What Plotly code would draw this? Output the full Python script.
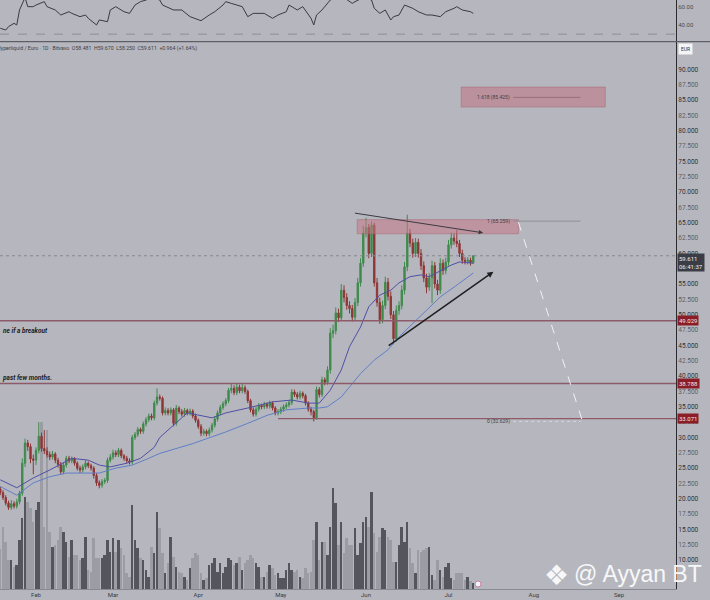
import pandas as pd
import plotly.graph_objects as go

# ---------------- data ----------------
start = pd.Timestamp("2025-01-19")

opens = [21.6, 21.0, 20.2, 19.3, 18.6, 19.2, 18.8, 19.5, 20.9, 25.8, 29.1, 28.5, 26.5, 26.3, 27.9, 30.2, 28.2, 27.8, 27.2, 26.8,
         27.3, 26.3, 25.6, 24.4, 25.5, 26.6, 26.2, 26.5, 25.8, 25.0, 24.7, 25.2, 25.8, 25.4, 25.0, 23.8, 22.6, 22.2, 22.8, 23.0,
         26.3, 26.8, 27.5, 27.2, 27.9, 27.0, 26.6, 26.2, 26.0, 30.0, 30.5, 31.3, 31.0, 32.2, 32.9, 33.5, 33.2, 35.6, 36.6, 36.4,
         34.0, 34.4, 34.0, 34.5, 32.3, 34.8, 34.2, 33.8, 34.4, 34.0, 34.3, 33.5, 32.8, 31.8, 30.7, 31.0, 30.6, 31.2, 32.0, 33.0,
         34.0, 34.9, 35.5, 36.0, 37.7, 38.0, 37.3, 38.2, 37.6, 38.1, 37.5, 36.0, 34.5, 33.8, 34.6, 35.2, 35.0, 35.4, 35.1, 35.6,
         34.8, 34.0, 34.2, 34.6, 35.0, 35.3, 35.7, 37.4, 37.0, 36.6, 37.2, 36.8, 35.6, 34.6, 34.2, 33.2, 37.8, 37.0, 39.4, 39.0,
         41.0, 47.0, 47.4, 50.3, 49.5, 54.0, 52.8, 51.5, 51.0, 49.6, 52.0, 55.2, 58.4, 63.3, 64.2, 60.0, 64.6, 55.2, 52.0, 49.2,
         51.5, 55.3, 53.0, 50.0, 46.1, 50.7, 51.5, 54.0, 57.8, 63.3, 61.7, 60.0, 61.8, 60.0, 58.0, 56.0, 54.5, 56.0, 58.0, 55.0,
         54.0, 58.4, 57.2, 58.6, 61.4, 62.5, 62.0, 61.6, 60.0, 58.9, 58.7, 58.9, 58.481]
highs = [22.0, 21.4, 20.6, 19.7, 19.8, 19.6, 20.0, 21.3, 26.6, 29.8, 29.6, 29.0, 27.2, 28.4, 32.5, 30.8, 31.2, 28.4, 27.7, 27.8,
         27.6, 26.7, 26.0, 25.9, 27.0, 27.0, 26.9, 26.8, 26.1, 25.4, 25.6, 26.3, 26.1, 25.7, 25.3, 24.2, 23.0, 23.2, 23.4, 26.7,
         27.3, 28.0, 27.9, 28.3, 28.2, 27.3, 27.0, 26.6, 30.4, 30.9, 31.7, 31.6, 32.6, 33.3, 33.9, 33.9, 36.0, 38.0, 37.0, 36.7,
         34.9, 34.8, 34.9, 34.8, 35.3, 35.1, 34.6, 34.8, 34.7, 34.7, 34.6, 33.9, 33.1, 32.2, 31.4, 31.3, 31.6, 32.4, 33.4, 34.4,
         35.3, 35.9, 36.4, 38.1, 38.8, 38.5, 38.8, 38.6, 38.7, 38.5, 37.8, 36.3, 34.9, 35.0, 35.6, 35.5, 35.8, 35.7, 36.0, 35.9,
         35.1, 34.6, 35.0, 35.4, 35.7, 36.1, 37.9, 37.8, 37.4, 37.6, 37.5, 37.1, 35.9, 35.0, 34.5, 38.3, 38.2, 39.9, 39.8, 41.6,
         47.8, 48.4, 51.2, 51.0, 55.0, 54.8, 53.5, 52.2, 51.6, 52.7, 56.0, 59.2, 64.5, 65.8, 64.8, 65.2, 65.0, 56.0, 52.8, 52.3,
         56.2, 56.0, 53.8, 50.6, 51.5, 52.2, 54.8, 58.6, 66.3, 64.0, 62.4, 62.5, 62.4, 60.7, 58.7, 56.7, 56.8, 58.8, 58.6, 55.7,
         59.2, 59.0, 59.3, 62.2, 63.4, 63.2, 63.8, 62.2, 60.6, 59.4, 59.4, 59.3, 59.67]
lows = [20.6, 19.8, 18.9, 18.2, 18.2, 18.4, 18.4, 19.1, 20.5, 25.2, 27.8, 25.8, 24.0, 25.5, 27.4, 27.7, 27.3, 26.7, 26.3, 26.4,
        25.8, 25.1, 23.9, 24.0, 25.1, 25.8, 25.8, 25.4, 24.6, 24.2, 24.3, 24.8, 25.0, 24.6, 23.3, 22.1, 21.7, 21.8, 22.4, 22.6,
        25.9, 26.4, 26.8, 26.8, 26.6, 26.2, 25.8, 25.6, 25.6, 29.6, 30.1, 30.6, 30.6, 31.8, 32.5, 32.8, 32.8, 35.2, 36.0, 33.6,
        33.6, 33.6, 33.6, 31.8, 31.9, 33.8, 33.4, 33.4, 33.6, 33.6, 33.1, 32.4, 31.4, 30.2, 30.3, 30.2, 30.2, 30.8, 31.6, 32.6,
        33.6, 34.5, 35.1, 35.6, 37.2, 36.9, 36.9, 37.2, 37.2, 37.1, 35.6, 34.1, 33.4, 33.4, 34.2, 34.6, 34.6, 34.7, 34.7, 34.4,
        33.6, 33.6, 33.8, 34.2, 34.6, 34.9, 35.3, 36.6, 36.2, 36.2, 36.4, 35.2, 34.2, 33.6, 32.6, 32.9, 36.5, 36.6, 38.5, 38.6,
        40.4, 46.2, 46.8, 48.8, 49.0, 52.0, 50.8, 50.2, 48.9, 49.0, 51.4, 54.6, 57.8, 62.6, 59.2, 59.4, 54.6, 51.3, 48.5, 48.6,
        50.9, 52.3, 49.3, 45.2, 45.6, 50.0, 50.9, 53.3, 57.1, 61.0, 59.3, 59.4, 59.3, 57.3, 55.3, 53.5, 53.9, 51.9, 54.3, 53.2,
        53.4, 56.5, 56.6, 58.0, 60.8, 61.4, 61.0, 59.4, 58.3, 58.2, 58.2, 58.0, 58.25]
closes = [21.0, 20.2, 19.3, 18.6, 19.2, 18.8, 19.5, 20.9, 25.8, 29.1, 28.5, 26.5, 26.3, 27.9, 30.2, 28.2, 27.8, 27.2, 26.8, 27.3,
          26.3, 25.6, 24.4, 25.5, 26.6, 26.2, 26.5, 25.8, 25.0, 24.7, 25.2, 25.8, 25.4, 25.0, 23.8, 22.6, 22.2, 22.8, 23.0, 26.3,
          26.8, 27.5, 27.2, 27.9, 27.0, 26.6, 26.2, 26.0, 30.0, 30.5, 31.3, 31.0, 32.2, 32.9, 33.5, 33.2, 35.6, 36.6, 36.4, 34.0,
          34.4, 34.0, 34.5, 32.3, 34.8, 34.2, 33.8, 34.4, 34.0, 34.3, 33.5, 32.8, 31.8, 30.7, 31.0, 30.6, 31.2, 32.0, 33.0, 34.0,
          34.9, 35.5, 36.0, 37.7, 38.0, 37.3, 38.2, 37.6, 38.1, 37.5, 36.0, 34.5, 33.8, 34.6, 35.2, 35.0, 35.4, 35.1, 35.6, 34.8,
          34.0, 34.2, 34.6, 35.0, 35.3, 35.7, 37.4, 37.0, 36.6, 37.2, 36.8, 35.6, 34.6, 34.2, 33.2, 37.8, 37.0, 39.4, 39.0, 41.0,
          47.0, 47.4, 50.3, 49.5, 54.0, 52.8, 51.5, 51.0, 49.6, 52.0, 55.2, 58.4, 63.3, 64.2, 60.0, 64.6, 55.2, 52.0, 49.2, 51.5,
          55.3, 53.0, 50.0, 46.1, 50.7, 51.5, 54.0, 57.8, 63.3, 61.7, 60.0, 61.8, 60.0, 58.0, 56.0, 54.5, 56.0, 58.0, 55.0, 54.0,
          58.4, 57.2, 58.6, 61.4, 62.5, 62.0, 61.6, 60.0, 58.9, 58.7, 58.9, 58.481, 59.611]
volumes_k = [400, 620, 470, 290, 290, 220, 240, 490, 710, 920, 870, 810, 670, 790, 870, 1670, 620, 1590, 570, 420,
             440, 490, 620, 570, 470, 320, 490, 340, 340, 290, 310, 520, 190, 170, 510, 310, 310, 310, 340, 490,
             370, 510, 370, 490, 410, 340, 160, 120, 840, 490, 410, 310, 290, 190, 120, 420, 360, 770, 610, 360,
             160, 260, 520, 320, 220, 170, 160, 120, 90, 210, 310, 360, 340, 160, 90, 110, 240, 260, 310, 170,
             260, 160, 220, 310, 290, 240, 260, 320, 190, 260, 290, 340, 310, 260, 220, 120, 120, 170, 240, 210,
             140, 160, 110, 110, 190, 260, 190, 170, 190, 120, 110, 210, 160, 170, 490, 670, 290, 470, 470, 340,
             620, 1010, 860, 440, 670, 360, 510, 440, 440, 610, 340, 460, 670, 720, 620, 970, 560, 370, 520, 610,
             590, 520, 490, 270, 270, 440, 620, 470, 670, 410, 260, 160, 390, 370, 390, 410, 420, 140, 90, 290,
             190, 120, 220, 260, 110, 90, 160, 160, 160, 90, 120, 80, 60]

ma_fast_days = [0, 6, 12, 18, 26, 32, 36, 40, 46, 51, 56, 58, 61, 68, 77, 82, 90, 99, 106, 112, 116, 120, 124, 127, 131,
                134, 138, 142, 145, 149, 153, 156, 164, 167, 172]
ma_fast_vals = [23.1, 21.8, 23.4, 24.7, 26.6, 26.3, 25.5, 25.2, 25.8, 26.6, 28.4, 30.0, 31.2, 34.0, 33.2, 34.0, 34.8, 35.8,
                36.1, 35.6, 35.6, 37.7, 41.0, 44.8, 48.0, 51.3, 53.2, 54.0, 55.2, 56.2, 56.5, 56.2, 58.1, 58.6, 58.4]
ma_slow_days = [0, 6, 12, 18, 24, 30, 36, 42, 48, 54, 58, 70, 82, 90, 97, 104, 112, 116, 119, 124, 131, 136, 141, 145,
                150, 155, 160, 165, 170, 172]
ma_slow_vals = [22.0, 20.6, 22.6, 23.6, 24.2, 24.2, 24.2, 25.0, 25.5, 26.6, 27.4, 29.0, 30.9, 32.3, 33.6, 34.5, 34.8, 34.8,
                35.0, 36.6, 40.4, 42.6, 44.3, 46.4, 48.6, 50.7, 52.9, 54.5, 56.2, 56.8]

osc_days = [0, 2, 3, 5, 6, 7, 9, 10, 12, 13, 16, 17, 20, 22, 25, 26, 29, 31, 32, 35, 36, 39, 40, 42, 45, 47, 49, 51, 53,
            55, 58, 59, 63, 66, 69, 73, 76, 78, 81, 82, 84, 86, 88, 90, 92, 96, 99, 101, 104, 105, 108, 110, 113, 114,
            115, 117, 119, 120, 123, 126, 128, 129, 132, 135, 136, 138, 140, 142, 143, 145, 147, 150, 152, 155, 157,
            160, 162, 165, 166, 168, 171, 172]
osc_vals = [36.4, 34.5, 38.2, 41.8, 40.0, 56.4, 70.0, 60.0, 60.0, 61.8, 65.5, 60.0, 56.4, 50.9, 54.5, 52.7, 49.1, 50.9,
            47.3, 40.0, 45.5, 43.6, 56.4, 60.0, 54.5, 52.7, 61.8, 65.5, 67.3, 70.0, 67.3, 61.8, 56.4, 56.4, 49.1, 44.7,
            50.9, 54.5, 61.8, 65.5, 63.6, 61.8, 60.0, 49.1, 52.7, 52.7, 47.3, 50.9, 54.5, 61.8, 56.4, 60.0, 47.3, 40.0,
            50.9, 56.4, 63.6, 67.3, 74.0, 67.3, 63.6, 65.5, 70.0, 67.3, 58.2, 52.7, 56.4, 45.5, 49.1, 50.9, 61.8, 58.2,
            54.5, 50.9, 50.9, 49.1, 54.5, 58.2, 60.0, 56.4, 54.5, 52.7]

price_ticks = [10.0, 12.5, 15.0, 17.5, 20.0, 22.5, 25.0, 27.5, 30.0, 32.5, 35.0, 37.5, 40.0, 42.5, 45.0, 47.5, 50.0,
               52.5, 55.0, 57.5, 60.0, 62.5, 65.0, 67.5, 70.0, 72.5, 75.0, 77.5, 80.0, 82.5, 85.0, 87.5, 90.0]
month_ticks = ["2025-02-01", "2025-03-01", "2025-04-01", "2025-05-01", "2025-06-01", "2025-07-01", "2025-08-01", "2025-09-01"]
month_labels = ["Feb", "Mar", "Apr", "May", "Jun", "Jul", "Aug", "Sep"]
osc_ticks = [40, 60]
osc_labels = ["40.00", "60.00"]

levels = [49.029, 38.788, 33.071]
last_price = 59.611
countdown = "06:41:37"
fib_1618 = 85.425
fib_1 = 65.259
fib_0 = 32.629
header = "Hyperliquid / Euro · 1D · Bitvavo  O58.481  H59.670  L58.250  C59.611  +0.964 (+1.64%)"

# ---------------- styling ----------------
BG = "#b6b7be"
UP = "#3f8a4c"
DOWN = "#8e3636"
VOL_UP = "#55565d"
VOL_DOWN = "#9c9da4"
W, H = 710, 600
ML, MR, MT, MB = 0, 34, 0, 11
PW, PH = W - ML - MR, H - MT - MB
MAIN_TOP = 42      # px (top of price pane)
OSC_BOT = 41       # px (bottom of oscillator pane)


def d2t(d):
    return start + pd.Timedelta(days=d)


def pxx(x):
    return x / PW


def pxy(y):
    return (PH - y) / PH


dates = pd.date_range(start, periods=len(closes), freq="D")
vol_colors = [VOL_UP if c >= o else VOL_DOWN for o, c in zip(opens, closes)]

fig = go.Figure()

fig.add_trace(go.Bar(x=dates, y=volumes_k, marker=dict(color=vol_colors, line=dict(width=0)),
                     width=0.72 * 86400000, xaxis="x", yaxis="y", hoverinfo="skip"))

fig.add_trace(go.Candlestick(x=dates, open=opens, high=highs, low=lows, close=closes,
                             increasing=dict(line=dict(color=UP, width=1), fillcolor=UP),
                             decreasing=dict(line=dict(color=DOWN, width=1), fillcolor=DOWN),
                             whiskerwidth=0, xaxis="x", yaxis="y2", hoverinfo="skip"))

fig.add_trace(go.Scatter(x=[d2t(d) for d in ma_slow_days], y=ma_slow_vals, mode="lines",
                         line=dict(color="#5f7fc8", width=1), xaxis="x", yaxis="y2", hoverinfo="skip"))
fig.add_trace(go.Scatter(x=[d2t(d) for d in ma_fast_days], y=ma_fast_vals, mode="lines",
                         line=dict(color="#4f4fa6", width=1), xaxis="x", yaxis="y2", hoverinfo="skip"))

fig.add_trace(go.Scatter(x=[d2t(d) for d in osc_days], y=osc_vals, mode="lines",
                         line=dict(color="#3a3a3f", width=1), xaxis="x2", yaxis="y3", hoverinfo="skip"))

x_range = [d2t(-0.1), d2t(-0.1 + PW / 2.75)]
p_bot = 90 - (PH - 69.3) / 6.136
p_top = 90 + (69.3 - MAIN_TOP) / 6.136
main_dom = [0, (PH - MAIN_TOP) / PH]
osc_dom = [(PH - OSC_BOT) / PH, 1]

tick_text = []
for v in price_ticks:
    col = "#2f3035" if v % 5 == 0 else "#5d5e66"
    tick_text.append(f"<span style='color:{col}'>{v:.3f}</span>")

fig.update_layout(
    width=W, height=H, margin=dict(l=ML, r=MR, t=MT, b=MB, autoexpand=False),
    paper_bgcolor=BG, plot_bgcolor=BG, showlegend=False, bargap=0,
    font=dict(family="Roboto, Liberation Sans, sans-serif", color="#333"),
    xaxis=dict(domain=[0, 1], anchor="y", type="date", range=x_range, rangeslider=dict(visible=False),
               tickvals=month_ticks, ticktext=month_labels, tickfont=dict(size=6, color="#3a3a40"),
               showgrid=False, zeroline=False, showline=True, linecolor="#8a8b92", linewidth=1, ticks=""),
    yaxis=dict(domain=main_dom, range=[0, (PH - MAIN_TOP) * 10], visible=False, fixedrange=True),
    yaxis2=dict(overlaying="y", side="right", anchor="x", range=[p_bot, p_top], tickvals=price_ticks,
                ticktext=tick_text, tickfont=dict(size=6.5), showgrid=False, zeroline=False,
                showline=True, linecolor="#2b2b30", linewidth=1, ticks="", automargin=False),
    xaxis2=dict(domain=[0, 1], anchor="y3", matches="x", visible=False, range=x_range),
    yaxis3=dict(domain=osc_dom, anchor="x2", side="right", range=[22.5, 67.3], tickvals=osc_ticks,
                ticktext=osc_labels, tickfont=dict(size=6, color="#4a4b52"), showgrid=False, zeroline=False,
                showline=True, linecolor="#2b2b30", linewidth=1, ticks="", automargin=False),
)

shapes = []
# pane separator
shapes.append(dict(type="line", xref="paper", yref="paper", x0=0, x1=W / PW, y0=pxy(41.7), y1=pxy(41.7),
                   line=dict(color="#4a4b52", width=1)))
# oscillator dashed level
shapes.append(dict(type="line", xref="paper", yref="y3", x0=0, x1=1, y0=30, y1=30,
                   line=dict(color="#8d8e95", width=1, dash="dash")))
# last price dotted
shapes.append(dict(type="line", xref="paper", yref="y2", x0=0, x1=1, y0=last_price, y1=last_price,
                   line=dict(color="#86878e", width=1, dash="dot")))
# horizontal key levels
shapes.append(dict(type="line", xref="paper", yref="y2", x0=0, x1=1, y0=levels[0], y1=levels[0],
                   line=dict(color="#8c5a68", width=1.6)))
shapes.append(dict(type="line", xref="paper", yref="y2", x0=0, x1=1, y0=levels[1], y1=levels[1],
                   line=dict(color="#8c5a68", width=1.6)))
shapes.append(dict(type="line", xref="x", yref="y2", x0=d2t(101), x1=x_range[1], y0=levels[2], y1=levels[2],
                   line=dict(color="#8c5a68", width=1.4)))
# resistance zone
shapes.append(dict(type="rect", xref="x", yref="y2", x0=d2t(129.8), x1=d2t(188.4), y0=63.2, y1=65.5,
                   fillcolor="rgba(196,120,135,0.55)", line=dict(color="rgba(170,100,115,0.5)", width=1)))
# 1.618 target zone
shapes.append(dict(type="rect", xref="x", yref="y2", x0=d2t(167.6), x1=d2t(220.0), y0=83.85, y1=87.1,
                   fillcolor="rgba(190,115,130,0.55)", line=dict(color="rgba(170,100,115,0.5)", width=1)))
# fib lines
shapes.append(dict(type="line", xref="x", yref="y2", x0=d2t(186.5), x1=d2t(211), y0=fib_1618, y1=fib_1618,
                   line=dict(color="#9a6d79", width=1)))
shapes.append(dict(type="line", xref="x", yref="y2", x0=d2t(186.5), x1=d2t(211), y0=fib_1, y1=fib_1,
                   line=dict(color="#8f9097", width=1)))
shapes.append(dict(type="line", xref="x", yref="y2", x0=d2t(186.5), x1=d2t(211), y0=fib_0, y1=fib_0,
                   line=dict(color="#d6d6dc", width=1, dash="dot")))
# projection (white dashed)
shapes.append(dict(type="line", xref="x", yref="y2", x0=d2t(188.4), x1=d2t(211.6), y0=65.1, y1=32.8,
                   line=dict(color="#f2f2f5", width=1, dash="dash")))
# little circle icon
shapes.append(dict(type="circle", xref="paper", yref="paper", x0=pxx(475), x1=pxx(481), y0=pxy(587), y1=pxy(581),
                   fillcolor="#f4f4f6", line=dict(color="#c77fa0", width=1)))
fig.update_layout(shapes=shapes)

ann = []
# trend lines with arrows
ann.append(dict(xref="x", yref="y2", axref="x", ayref="y2", x=d2t(175.6), y=63.35, ax=d2t(128.4), ay=66.6,
                text="", showarrow=True, arrowhead=2, arrowsize=0.9, arrowwidth=1, arrowcolor="#3b3b40"))
ann.append(dict(xref="x", yref="y2", axref="x", ayref="y2", x=d2t(179.3), y=57.0, ax=d2t(140.7), ay=44.8,
                text="", showarrow=True, arrowhead=2, arrowsize=0.8, arrowwidth=1.5, arrowcolor="#1f1f22"))
# fib labels
for val, lab in [(fib_1618, f"1.618 ({fib_1618:.3f})"), (fib_1, f"1 ({fib_1:.3f})"), (fib_0, f"0 ({fib_0:.3f})")]:
    ann.append(dict(xref="x", yref="y2", x=d2t(186.2), y=val, text=lab, showarrow=False, xanchor="right",
                    yanchor="middle", font=dict(size=5, color="#3d3d44")))
# left side notes
ann.append(dict(xref="paper", yref="y2", x=0, y=47.35, text="<b><i>ne if a breakout</i></b>", showarrow=False,
                xanchor="left", yanchor="middle", font=dict(size=6.5, color="#1c1c20")))
ann.append(dict(xref="paper", yref="y2", x=0, y=39.75, text="<b><i>past few months.</i></b>", showarrow=False,
                xanchor="left", yanchor="middle", font=dict(size=6.5, color="#1c1c20")))
# header
ann.append(dict(xref="paper", yref="paper", x=0, y=main_dom[1], xshift=-5, yshift=-1, text=header,
                showarrow=False, xanchor="left", yanchor="top", font=dict(size=5.2, color="#3c3d44")))
# EUR box
ann.append(dict(xref="paper", yref="paper", x=1, y=main_dom[1], xshift=2, yshift=-1, text="EUR", showarrow=False,
                xanchor="left", yanchor="top", bgcolor="#f4f4f6", borderpad=2, font=dict(size=5, color="#333")))
# axis labels for levels
for lv in levels:
    ann.append(dict(xref="paper", yref="y2", x=1, y=lv, xshift=1, text=f"{lv:.3f}", showarrow=False,
                    xanchor="left", yanchor="middle", bgcolor="#8b1d27", borderpad=1,
                    font=dict(size=6, color="#f3e6e6")))
ann.append(dict(xref="paper", yref="y2", x=1, y=last_price, xshift=1, yshift=3,
                text=f"{last_price:.3f}<br>{countdown}", showarrow=False, xanchor="left", yanchor="top",
                bgcolor="#3a3d46", borderpad=1, align="left", font=dict(size=6, color="#f0f0f0")))
# watermark
ann.append(dict(xref="paper", yref="paper", x=pxx(556), y=pxy(575), text="❖", showarrow=False,
                xanchor="center", yanchor="middle", font=dict(size=28, color="#f7f7f9", family="DejaVu Sans")))
ann.append(dict(xref="paper", yref="paper", x=pxx(572), y=pxy(574), text="@ Ayyan BT", showarrow=False,
                xanchor="left", yanchor="middle", font=dict(size=23, color="#f7f7f9", family="Liberation Sans")))
fig.update_layout(annotations=ann)

fig.write_html("out.html", config={"displayModeBar": False},
               post_script="document.body.style.margin='0';")
